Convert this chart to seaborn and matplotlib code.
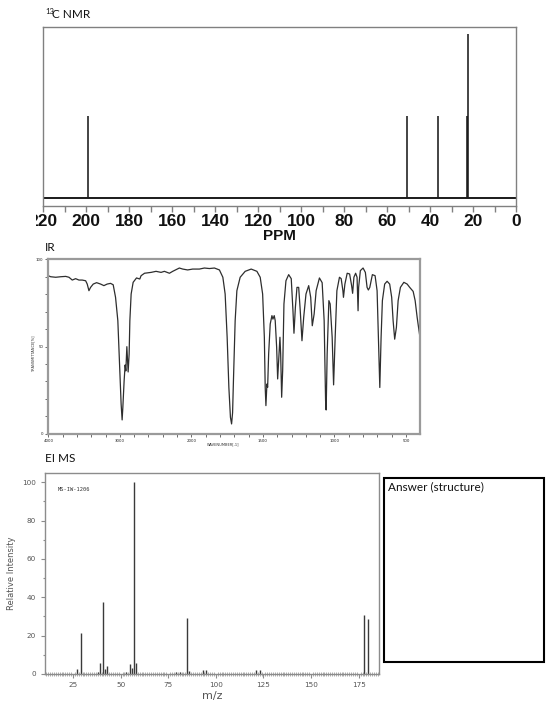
import numpy as np
import matplotlib
matplotlib.use("Agg")
import matplotlib.pyplot as plt
import seaborn as sns
from matplotlib.patches import Rectangle

# 13C NMR peaks
nmr_ppm = [199.0, 51.0, 36.3, 23.0, 22.4]
nmr_height = [0.5, 0.5, 0.5, 0.5, 1.0]
nmr_ticks = list(range(0, 221, 20))

# IR spectrum (wavenumber, %T)
ir_wn = [4000, 3967, 3897, 3827, 3757, 3711, 3665, 3618, 3572, 3526, 3478, 3456,
         3432, 3409, 3372, 3325, 3269, 3223, 3177, 3130, 3093, 3060, 3028, 3000,
         2982, 2968, 2958, 2940, 2926, 2916, 2902, 2884, 2870, 2860, 2842, 2814,
         2767, 2721, 2703, 2655, 2563, 2494, 2424, 2377, 2307, 2261, 2168, 2121,
         2052, 1991, 1944, 1909, 1874, 1839, 1804, 1780, 1764, 1750, 1738, 1727,
         1719, 1712, 1706, 1694, 1682, 1659, 1624, 1582, 1542, 1519, 1502, 1490,
         1484, 1479, 1472, 1467, 1460, 1449, 1437, 1430, 1421, 1414, 1404, 1397,
         1390, 1381, 1376, 1369, 1362, 1353, 1339, 1320, 1302, 1290, 1283, 1273,
         1262, 1250, 1239, 1227, 1215, 1199, 1180, 1166, 1155, 1142, 1128, 1105,
         1086, 1072, 1062, 1058, 1051, 1039, 1030, 1016, 1006, 995, 983, 965,
         953, 941, 937, 927, 911, 894, 880, 873, 864, 852, 842, 835,
         831, 819, 800, 784, 772, 763, 753, 735, 716, 702, 693, 683,
         674, 665, 649, 632, 614, 600, 590, 579, 567, 555, 539, 515,
         492, 474, 450, 436, 422, 404]
ir_t = [90.6, 90.0, 89.7, 90.0, 90.2, 89.7, 88.1, 88.9, 88.1, 88.1, 87.7, 85.8,
        82.0, 83.9, 85.8, 86.6, 85.8, 84.9, 85.8, 86.2, 85.4, 78.2, 64.8, 36.1,
        17.0, 7.9, 15.1, 30.4, 39.4, 36.0, 49.9, 35.4, 45.7, 64.8, 80.1, 86.8,
        89.3, 88.7, 90.6, 92.0, 92.5, 93.1, 92.5, 93.1, 92.0, 93.1, 95.0, 94.4,
        93.9, 94.4, 94.4, 95.0, 94.7, 95.0, 93.9, 89.7, 80.1, 55.3, 26.6, 9.4,
        5.6, 12.0, 30.4, 64.8, 82.0, 89.7, 93.1, 94.4, 93.1, 89.7, 80.1, 55.3,
        26.6, 16.1, 28.5, 26.6, 45.7, 62.9, 67.7, 65.7, 67.7, 64.8, 49.5, 31.4,
        41.9, 55.3, 45.7, 20.9, 36.1, 74.4, 87.7, 91.2, 88.9, 70.5, 57.6, 72.5,
        83.9, 83.9, 70.5, 53.3, 66.7, 80.1, 84.9, 78.2, 61.9, 68.6, 82.0, 89.3,
        86.6, 64.8, 18.9, 13.6, 45.7, 76.3, 74.4, 55.3, 28.0, 55.3, 82.0, 89.7,
        88.9, 82.0, 78.2, 85.8, 92.0, 91.6, 84.9, 80.5, 89.7, 92.0, 89.7, 70.5,
        83.9, 93.5, 95.0, 92.5, 83.9, 82.4, 83.9, 91.2, 90.6, 82.0, 55.3, 26.5,
        55.3, 76.3, 85.8, 87.4, 85.8, 78.2, 64.8, 54.2, 61.0, 76.3, 83.9, 86.8,
        85.8, 83.9, 81.6, 76.3, 66.7, 56.2]
ir_major = [4000, 3000, 2000, 1500, 1000, 500]

# EI mass spectrum
ms_mz = [27, 29, 38, 39, 41, 42, 43, 53, 55, 56, 57, 58, 79, 81, 85, 86,
         93, 95, 121, 123, 178, 180]
ms_int = [2.8, 21.5, 1.0, 5.6, 37.5, 2.6, 4.0, 1.0, 5.0, 3.3, 100, 5.7, 1.0, 1.0,
          29.0, 1.7, 2.0, 2.0, 2.2, 2.2, 30.8, 28.9]
ms_ticks = [25, 50, 75, 100, 125, 150, 175]
ms_yticks = [0, 20, 40, 60, 80, 100]

sns.set_theme(style="white")
plt.rcParams["font.family"] = ["DejaVu Sans"]

W, H = 558, 726
fig = plt.figure(figsize=(W / 100, H / 100), dpi=100)


def box(x0, y0, x1, y1):
    return [x0 / W, 1 - y1 / H, (x1 - x0) / W, (y1 - y0) / H]


# ---- 13C NMR ----
ax1 = fig.add_axes(box(43, 26.7, 516.3, 206))
ax1.vlines(nmr_ppm, 0, nmr_height, color="#111111", lw=1.1)
ax1.axhline(0, color="#1a1a1a", lw=1.4)
ax1.set_xlim(220, 0)
ax1.set_ylim(-0.0489, 1.0464)
ax1.set_yticks([])
ax1.set_xticks(nmr_ticks, labels=[str(t) for t in nmr_ticks],
               fontsize=12.5, fontweight="bold", fontfamily="Liberation Sans")
ax1.set_xticks(list(range(10, 220, 20)), minor=True)
ax1.tick_params(axis="x", which="both", bottom=True, direction="out", length=4,
                width=1, color="#808080", pad=1.5, labelcolor="#111111")
ax1.set_xlabel("PPM", fontsize=11, fontweight="bold", fontfamily="Liberation Sans",
               labelpad=0.5, color="#111111")
for s in ax1.spines.values():
    s.set_color("#808080")
    s.set_linewidth(1)
# the leftmost "220" is cut off by the page edge in the source image
fig.add_artist(Rectangle((0, 1 - 234 / H), 36 / W, 25 / H, transform=fig.transFigure,
                         fc="white", ec="none", zorder=10))


# ---- IR ----
def fwd(w):
    w = np.asarray(w, dtype=float)
    return np.where(w >= 2000, 1000 + (w - 2000) * 0.5, w - 1000)


def inv(u):
    u = np.asarray(u, dtype=float)
    return np.where(u >= 1000, 2000 + (u - 1000) * 2.0, u + 1000)


ax2 = fig.add_axes(box(48.3, 259.3, 420.3, 433.7))
ax2.set_xscale("function", functions=(fwd, inv))
sns.lineplot(x=ir_wn, y=ir_t, ax=ax2, color="#2e2e2e", lw=0.9, sort=False)
ax2.set_xlim(4000, 400)
ax2.set_ylim(0, 100)
ax2.set_xticks(ir_major, labels=[str(t) for t in ir_major], fontsize=2.8)
ax2.set_xticks([w for w in list(range(3800, 2000, -200)) + list(range(1900, 400, -100))
                if w not in ir_major], minor=True)
ax2.set_yticks([0, 50, 100], labels=["0", "50", "100"], fontsize=2.8)
ax2.set_yticks(list(range(10, 100, 10)), minor=True)
ax2.tick_params(which="both", bottom=True, left=True, direction="out", length=2,
                width=0.6, color="#555555", pad=1.5, labelcolor="#222222")
for s in ax2.spines.values():
    s.set_color("#9a9a9a")
    s.set_linewidth(1.6)
ax2.text(0.47, -0.06, "WAVENUMBER[-1]", transform=ax2.transAxes, fontsize=2.6,
         ha="center", va="center", color="#333333")
ax2.text(-0.04, 0.46, "TRANSMITTANCE[%]", transform=ax2.transAxes, fontsize=2.6,
         ha="center", va="center", rotation=90, color="#333333")
ax2.set_xlabel("")
ax2.set_ylabel("")

# ---- EI MS ----
ax3 = fig.add_axes(box(45, 472.7, 379.3, 674))
ax3.vlines(ms_mz, 0, ms_int, color="#3a3a3a", lw=1.0)
ax3.set_xlim(10.3, 185.8)
ax3.set_ylim(0, 105)
ax3.set_xticks(ms_ticks, labels=[str(t) for t in ms_ticks], fontsize=5.2)
ax3.set_xticks(list(range(11, 186)), minor=True)
ax3.set_yticks(ms_yticks, labels=[str(t) for t in ms_yticks], fontsize=5.2)
ax3.set_yticks(list(range(10, 101, 20)), minor=True)
ax3.tick_params(axis="x", which="major", bottom=True, direction="out", length=3,
                width=0.8, color="#8c8c8c", pad=3, labelcolor="#555555")
ax3.tick_params(axis="x", which="minor", bottom=True, direction="inout", length=2.5,
                width=0.5, color="#8c8c8c")
ax3.tick_params(axis="y", which="major", left=True, direction="out", length=3.2,
                width=0.8, color="#8c8c8c", pad=3.5, labelcolor="#555555")
ax3.tick_params(axis="y", which="minor", left=True, direction="out", length=1.6,
                width=0.8, color="#8c8c8c")
for s in ax3.spines.values():
    s.set_color("#8c8c8c")
    s.set_linewidth(1)
ax3.set_ylabel("Relative Intensity", fontsize=6, color="#555555")
ax3.yaxis.set_label_coords(-0.087, 0.5)
ax3.set_xlabel("m/z", fontsize=8, color="#555555")
ax3.xaxis.set_label_coords(0.5, -0.085)
ax3.text(0.039, 0.919, "MS-IW-1206", transform=ax3.transAxes, fontsize=3.9,
         family="DejaVu Sans Mono", va="center", color="#333333")

# ---- titles and answer box ----
tkw = dict(fontfamily="Lato", color="#111111")
fig.text(45 / W, 1 - 12 / H, "13", fontsize=5.5, va="center", **tkw)
fig.text(52.5 / W, 1 - 14.5 / H, "C NMR", fontsize=8.5, va="center", **tkw)
fig.text(45 / W, 1 - 247.5 / H, "IR", fontsize=8.5, va="center", **tkw)
fig.text(45 / W, 1 - 458.5 / H, "EI MS", fontsize=8.5, va="center", **tkw)

fig.add_artist(Rectangle((384.3 / W, 1 - 661.7 / H), (544 - 384.3) / W, (661.7 - 478.3) / H,
                         transform=fig.transFigure, fill=False, ec="black", lw=1.5))
fig.text(388.3 / W, 1 - 487 / H, "Answer (structure)", fontsize=8.5, va="center", **tkw)

fig.savefig("out.png", dpi=100)
